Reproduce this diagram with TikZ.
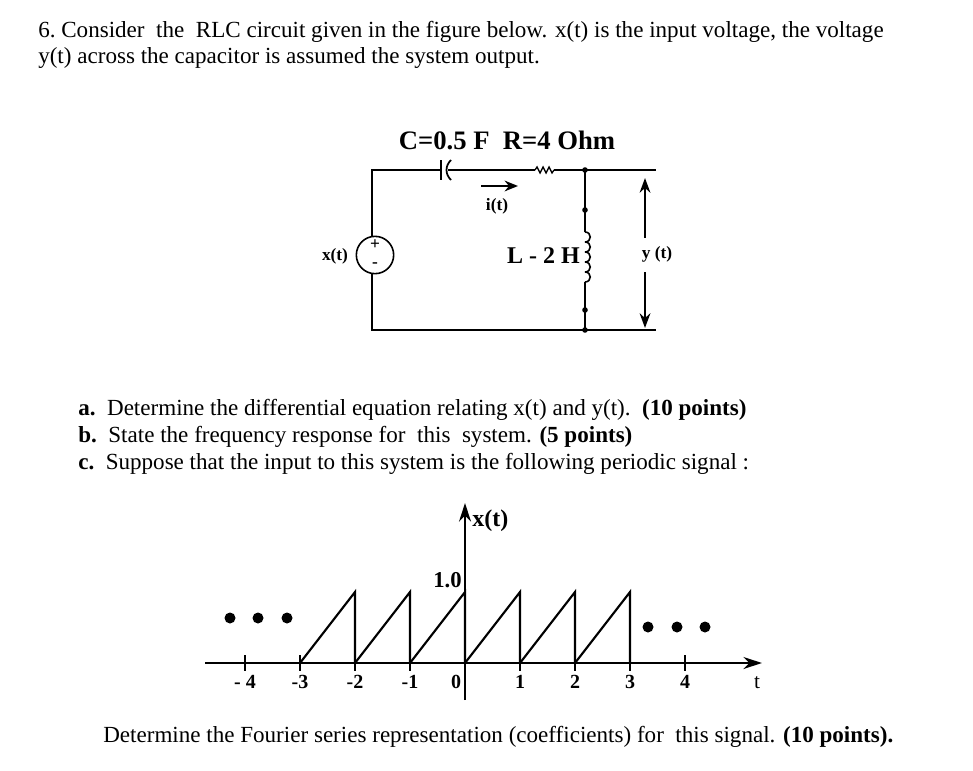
\documentclass[tikz,border=0pt]{standalone}
\usepackage{fontspec}
\setmainfont{Liberation Serif}
\usetikzlibrary{arrows.meta}
\begin{document}
\begin{tikzpicture}[x=0.75pt,y=-0.75pt,
  txt/.style={anchor=base west,inner sep=0pt,font=\fontsize{17.3}{20}\selectfont},
  lbl/.style={inner sep=0pt,font=\fontsize{15}{18}\selectfont\bfseries},
  sml/.style={inner sep=0pt,font=\fontsize{13}{14}\selectfont\bfseries},
  wire/.style={line width=2.2pt},
  ax/.style={line width=1.6pt}]
\useasboundingbox (0,0) rectangle (973,770);
% text
\node[txt] (l1) at (38,38) {6.\ Consider\ \ the\ \ RLC circuit given in the figure below. x(t) is the input voltage, the voltage};
\node[txt] (l2) at (38,64) {y(t) across the capacitor is assumed the system output.};
\node[lbl,anchor=base,font=\fontsize{20}{22}\selectfont\bfseries] (cr) at (507,149) {C=0.5 F\ \ R=4 Ohm};
% circuit
\coordinate (tl) at (372,170); \coordinate (bl) at (372,330);
\coordinate (tr) at (656,170); \coordinate (br) at (656,330);
\coordinate (nt) at (585,170); \coordinate (nb) at (585,330);
\draw[wire] (372,237) -- (tl) -- (441,170);
\draw[wire] (448,170) -- (535,170);
\draw[wire] (554,170) -- (tr);
\draw[line width=1.3pt] (441,160) -- (441,180);
\draw[line width=1.3pt] (451,160) .. controls (445,166) and (445,174) .. (451,180);
\draw[line width=1pt] (535,170) -- (537,167) -- (540,173) -- (543,167) -- (546,173) -- (549,167) -- (552,173) -- (554,170);
\draw[wire] (372,273) -- (bl) -- (br);
\node[draw,circle,line width=1.2pt,minimum size=28pt,inner sep=0pt] (src) at (375,255) {};
\node[font=\bfseries\fontsize{13}{13}\selectfont,inner sep=0pt] (pl) at (375,245) {+};
\node[font=\bfseries\fontsize{13}{13}\selectfont,inner sep=0pt] (mi) at (375,265) {-};
\node[sml] (xt) at (335,256) {x(t)};
\draw[wire] (nt) -- (585,232);
\draw[wire] (585,282) -- (nb);
\foreach \i in {0,...,4}{
  \draw[line width=1.2pt] (585,{232+10*\i}) .. controls (592,{232+10*\i}) and (592,{242+10*\i}) .. (585,{242+10*\i});
}
\fill (585,210) circle(2.8); \fill (585,310) circle(2.8); \fill (nt) circle(2.8); \fill (nb) circle(2.8);
\node[lbl,anchor=east,font=\fontsize{18}{20}\selectfont\bfseries] (lh) at (580,256) {L - 2 H};
\draw[-{Stealth[length=10pt,width=8pt]},line width=2pt] (481,186) -- (518,186);
\node[sml] (it) at (497,206) {i(t)};
\draw[{Stealth[length=11pt,width=8pt]}-,line width=2pt] (645,178) -- (645,238);
\draw[-{Stealth[length=11pt,width=8pt]},line width=2pt] (645,272) -- (645,328);
\node[sml] (yt) at (657,254) {y (t)};
% questions
\node[txt] (a) at (78,415) {\textbf{a.}\ \ Determine the differential equation relating x(t) and y(t).\ \ \textbf{(10 points)}};
\node[txt] (b) at (78,442) {\textbf{b.}\ \ State the frequency response for\ \ this\ \ system. \textbf{(5 points)}};
\node[txt] (c) at (78,469) {\textbf{c.}\ \ Suppose that the input to this system is the following periodic signal :};
% plot
\draw[ax,-{Stealth[length=14pt,width=9pt]}] (205,663) -- (762,663);
\draw[ax,-{Stealth[length=14pt,width=9pt]}] (465,700) -- (465,503);
\node[lbl,anchor=west,font=\bfseries\fontsize{18}{18}\selectfont] (xl) at (472,521) {x(t)};
\node[lbl,anchor=east,font=\bfseries\fontsize{17}{18}\selectfont] (one) at (462,580) {1.0};
\foreach \k/\s in {-4/- 4,-3/-3,-2/-2,-1/-1,0/0,1/1,2/2,3/3,4/4}{
  \draw[ax] ({465+55*\k},655) -- ({465+55*\k},671);
  \node[lbl,font=\bfseries\fontsize{15}{15}\selectfont] at ({465+55*\k-(\k==0?9:0)},682) {\s};
}
\node[lbl,font=\fontsize{16}{16}\selectfont] (tl2) at (757,683) {t};
\foreach \k in {-3,-2,-1,0,1,2}{
  \draw[line width=1.6pt] ({465+55*\k},663) -- ({465+55*(\k+1)},592) -- ({465+55*(\k+1)},663);
}
\foreach \xx in {230,258,287}{\fill (\xx,618) circle(5.5);}
\foreach \xx in {648,677,705}{\fill (\xx,627) circle(5.5);}
\node[txt] (fin) at (103,742) {Determine the Fourier series representation (coefficients) for\ \ this signal. \textbf{(10 points).}};
\end{tikzpicture}
\end{document}
